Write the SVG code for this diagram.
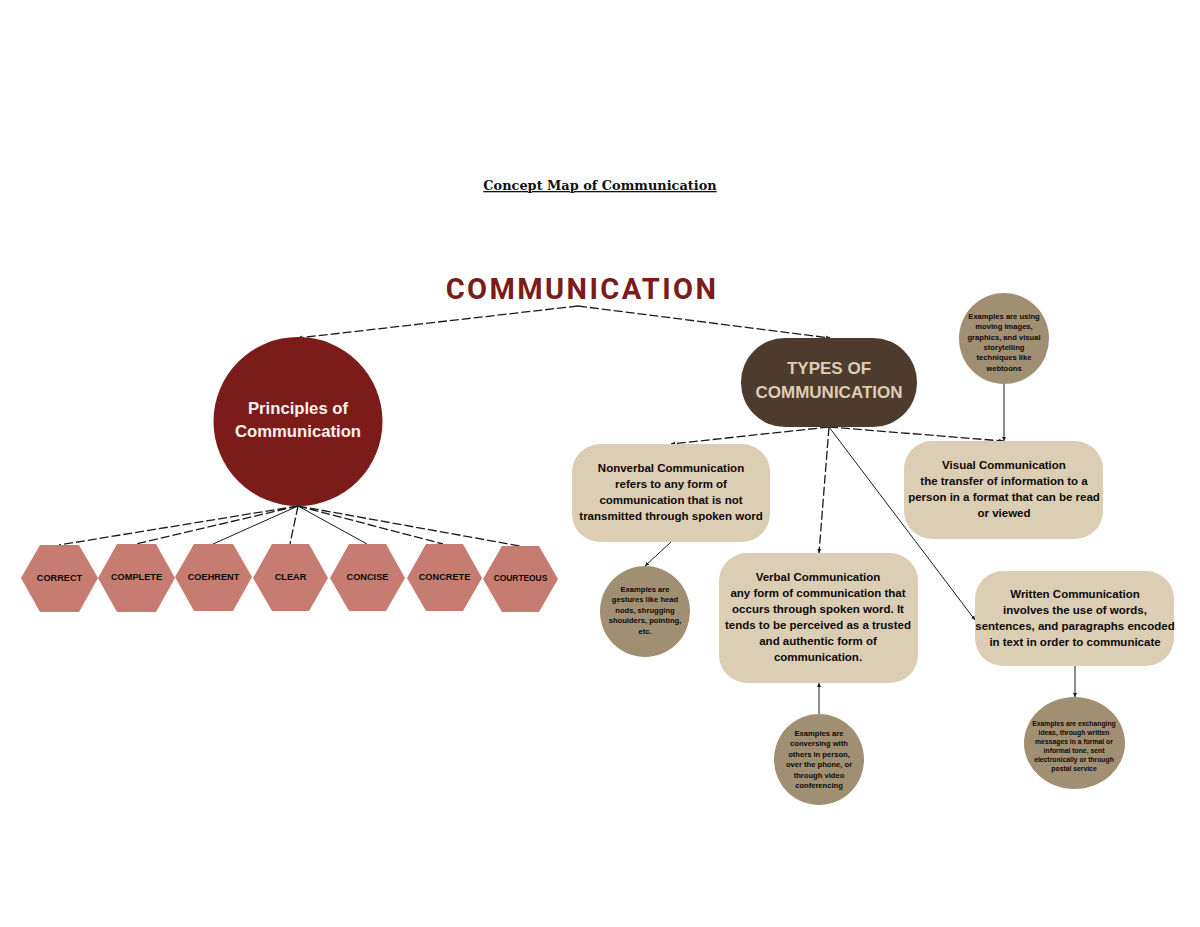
<svg xmlns="http://www.w3.org/2000/svg" width="1200" height="927" viewBox="0 0 1200 927">
<defs>
<marker id="tip" markerUnits="userSpaceOnUse" markerWidth="5" markerHeight="5" refX="4" refY="2.500" orient="auto"><path d="M0 0.500L4 2.500L0 4.500Z" fill="#1a1a1a"/></marker>
<style>
text{font-family:"Liberation Sans",Arial,sans-serif;text-anchor:middle;font-weight:700;fill:#0c0a08}
.title{font-family:"DejaVu Serif",serif;font-size:12.900px;text-decoration:underline;fill:#111}
.head{font-family:Roboto,"Liberation Sans",sans-serif;font-size:29px;fill:#7b1c1b;letter-spacing:2.400px}
.pr{font-size:16.700px;fill:#fbf3ec}
.ty{font-size:17px;fill:#ddcdb4}
.hx{font-size:9.200px}
.bd{font-size:11.500px}
.ex{font-size:7.600px}
.wx{font-size:6.800px}
.c{fill:none;stroke:#1a1a1a}
.d{stroke-width:1.300;stroke-dasharray:9 3}
.s{stroke-width:1}
.t{marker-end:url(#tip)}
.hex{fill:#c67c70}
.card{fill:#dccdb5}
.oval{fill:#a18f73}
</style>
</defs>
<text class="title" x="600" y="190">Concept Map of Communication</text>
<text class="head" x="582" y="299">COMMUNICATION</text>
<g id="connectors">
<path class="c d t" d="M578 306L298 338"/>
<path class="c d t" d="M578 306L830 338"/>
<path class="c d" d="M298 506L59 545M298 506L136 544M298 506L290 544M298 506L443 544M298 506L520 546"/>
<path class="c s" d="M298 506L213 544M298 506L367 544"/>
<path class="c d t" d="M829 427L671 444"/>
<path class="c d t" d="M829 427L1003 441"/>
<path class="c d t" d="M829 427L819 553"/>
<path class="c s t" d="M829 427L975 620"/>
<path class="c s t" d="M1004 384V441"/>
<path class="c s t" d="M671 542L645 566"/>
<path class="c s t" d="M819 714V683"/>
<path class="c s t" d="M1075 666V697"/>
</g>
<g id="principles"><circle cx="298" cy="421.500" r="84.500" fill="#7b1c1b"/><text class="pr" x="298" y="414">Principles of</text><text class="pr" x="298" y="437">Communication</text></g>
<g id="correct"><polygon class="hex" points="21,578 40,545 79,545 98,578 79,612 40,612"/><text class="hx" x="59.500" y="581">CORRECT</text></g>
<g id="complete"><polygon class="hex" points="98,578 117,544 156,544 175,578 156,612 117,612"/><text class="hx" x="136.500" y="580">COMPLETE</text></g>
<g id="coehrent"><polygon class="hex" points="175,577 194,544 233,544 252,577 233,611 194,611"/><text class="hx" x="213.500" y="580">COEHRENT</text></g>
<g id="clear"><polygon class="hex" points="253,578 272,544 309,544 328,578 309,611 272,611"/><text class="hx" x="290.500" y="580">CLEAR</text></g>
<g id="concise"><polygon class="hex" points="330,578 349,544 386,544 405,578 386,611 349,611"/><text class="hx" x="367.500" y="580">CONCISE</text></g>
<g id="concrete"><polygon class="hex" points="407,578 426,544 463,544 482,578 463,611 426,611"/><text class="hx" x="444.500" y="580">CONCRETE</text></g>
<g id="courteous"><polygon class="hex" points="483,579 502,546 539,546 558,579 539,612 502,612"/><text class="hx" style="font-size:8.400px" x="520.500" y="581">COURTEOUS</text></g>
<g id="types"><rect x="741" y="338" width="176" height="89" rx="44" fill="#4d3b2e"/><text class="ty" x="829" y="374">TYPES OF</text><text class="ty" x="829" y="398">COMMUNICATION</text></g>
<g id="nonverbal"><rect class="card" x="572" y="444" width="198" height="98" rx="28"/><text class="bd" x="671" y="472">Nonverbal Communication</text><text class="bd" x="671" y="488">refers to any form of</text><text class="bd" x="671" y="504">communication that is not</text><text class="bd" x="671" y="520">transmitted through spoken word</text></g>
<g id="visual"><rect class="card" x="904" y="441" width="199" height="98" rx="28"/><text class="bd" x="1004" y="469">Visual Communication</text><text class="bd" x="1004" y="485">the transfer of information to a</text><text class="bd" x="1004" y="501">person in a format that can be read</text><text class="bd" x="1004" y="517">or viewed</text></g>
<g id="verbal"><rect class="card" x="719" y="553" width="199" height="130" rx="28"/><text class="bd" x="818" y="581">Verbal Communication</text><text class="bd" x="818" y="597">any form of communication that</text><text class="bd" x="818" y="613">occurs through spoken word. It</text><text class="bd" x="818" y="629">tends to be perceived as a trusted</text><text class="bd" x="818" y="645">and authentic form of</text><text class="bd" x="818" y="661">communication.</text></g>
<g id="written"><rect class="card" x="975" y="571" width="199" height="95" rx="28"/><text class="bd" x="1075" y="598">Written Communication</text><text class="bd" x="1075" y="614">involves the use of words,</text><text class="bd" x="1075" y="630">sentences, and paragraphs encoded</text><text class="bd" x="1075" y="646">in text in order to communicate</text></g>
<g id="visual-example"><ellipse class="oval" cx="1004" cy="338.500" rx="45" ry="45.500"/><text class="ex" x="1004" y="319">Examples are using</text><text class="ex" x="1004" y="329">moving images,</text><text class="ex" x="1004" y="340">graphics, and visual</text><text class="ex" x="1004" y="350">storytelling</text><text class="ex" x="1004" y="360">techniques like</text><text class="ex" x="1004" y="371">webtoons</text></g>
<g id="nonverbal-example"><ellipse class="oval" cx="645" cy="611.500" rx="45" ry="45.500"/><text class="ex" x="645" y="592">Examples are</text><text class="ex" x="645" y="602">gestures like head</text><text class="ex" x="645" y="613">nods, shrugging</text><text class="ex" x="645" y="623">shoulders, pointing,</text><text class="ex" x="645" y="634">etc.</text></g>
<g id="verbal-example"><ellipse class="oval" cx="819" cy="759.500" rx="45" ry="45.500"/><text class="ex" x="819" y="736">Examples are</text><text class="ex" x="819" y="746">conversing with</text><text class="ex" x="819" y="757">others in person,</text><text class="ex" x="819" y="767">over the phone, or</text><text class="ex" x="819" y="778">through video</text><text class="ex" x="819" y="788">conferencing</text></g>
<g id="written-example"><ellipse class="oval" cx="1074.500" cy="743" rx="50.500" ry="46"/><text class="wx" x="1074" y="726">Examples are exchanging</text><text class="wx" x="1074" y="735">ideas, through written</text><text class="wx" x="1074" y="744">messages in a formal or</text><text class="wx" x="1074" y="753">informal tone, sent</text><text class="wx" x="1074" y="762">electronically or through</text><text class="wx" x="1074" y="771">postal service</text></g>
</svg>
